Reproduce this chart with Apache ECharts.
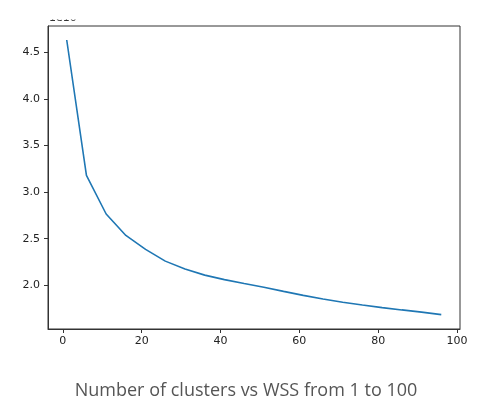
<!DOCTYPE html>
<html>
<head>
<meta charset="utf-8">
<script src="https://cdn.jsdelivr.net/npm/echarts@6/dist/echarts.min.js"></script>
<style>
  html, body { margin: 0; padding: 0; background: #fff; }
  #chart { width: 492px; height: 417px; }
</style>
</head>
<body>
<div id="chart"></div>
<script>
// number of clusters tried (step 5)
var clusters = [1, 6, 11, 16, 21, 26, 31, 36, 41, 46, 51, 56, 61, 66, 71, 76, 81, 86, 91, 96];
// WSS in units of 1e10
var wss = [4.63, 3.18, 2.765, 2.535, 2.386, 2.26, 2.175, 2.11, 2.062, 2.02,
           1.98, 1.936, 1.893, 1.854, 1.82, 1.79, 1.762, 1.737, 1.713, 1.687];
var xTicks = [0, 20, 40, 60, 80, 100];
var yTicks = [2.0, 2.5, 3.0, 3.5, 4.0, 4.5];
var caption = 'Number of clusters vs WSS from 1 to 100';

var initChart = function () {
    var myChart = echarts.init(document.getElementById('chart'));
    var seriesData = [];
    clusters.forEach(function (c, i) {
        seriesData.push([c, wss[i]]);
    });
    var axisColor = '#333';
    var option = {
        animation: false,
        backgroundColor: '#fff',
        grid: {
            left: 48, right: 32, top: 26, bottom: 88,
            show: true, borderColor: axisColor, borderWidth: 1
        },
        xAxis: {
            type: 'value',
            min: -3.75,
            max: 100.75,
            splitLine: { show: false },
            axisLine: { show: true, onZero: false, lineStyle: { color: axisColor } },
            axisTick: { show: true, length: 4, customValues: xTicks, lineStyle: { color: axisColor } },
            axisLabel: {
                customValues: xTicks,
                margin: 7,
                color: '#222',
                fontFamily: 'DejaVu Sans',
                fontSize: 11
            }
        },
        yAxis: {
            type: 'value',
            min: 1.5325,
            max: 4.78,
            splitLine: { show: false },
            axisLine: { show: true, onZero: false, lineStyle: { color: axisColor } },
            axisTick: { show: true, length: 4, customValues: yTicks, lineStyle: { color: axisColor } },
            axisLabel: {
                customValues: yTicks,
                margin: 8,
                color: '#222',
                fontFamily: 'DejaVu Sans',
                fontSize: 11,
                formatter: function (v) { return v.toFixed(1); }
            }
        },
        series: [{
            type: 'line',
            data: seriesData,
            showSymbol: false,
            lineStyle: { color: '#1f77b4', width: 1.6 },
            z: 3
        }],
        graphic: [
            /* offset text, cut off at the top like in the source */
            {
                type: 'text', left: 49, top: 13, z: 10,
                style: { text: '1e10', fontFamily: 'DejaVu Sans', fontSize: 11, fill: '#333' }
            },
            {
                type: 'rect', left: 0, top: 0, z: 11,
                shape: { width: 492, height: 19.5 },
                style: { fill: '#fff' }
            },
            {
                type: 'text', left: 'center', top: 382, z: 10,
                style: {
                    text: caption,
                    fontFamily: 'Open Sans',
                    fontSize: 18,
                    fill: '#555'
                }
            }
        ]
    };
    myChart.setOption(option);
};
initChart();
</script>
</body>
</html>
